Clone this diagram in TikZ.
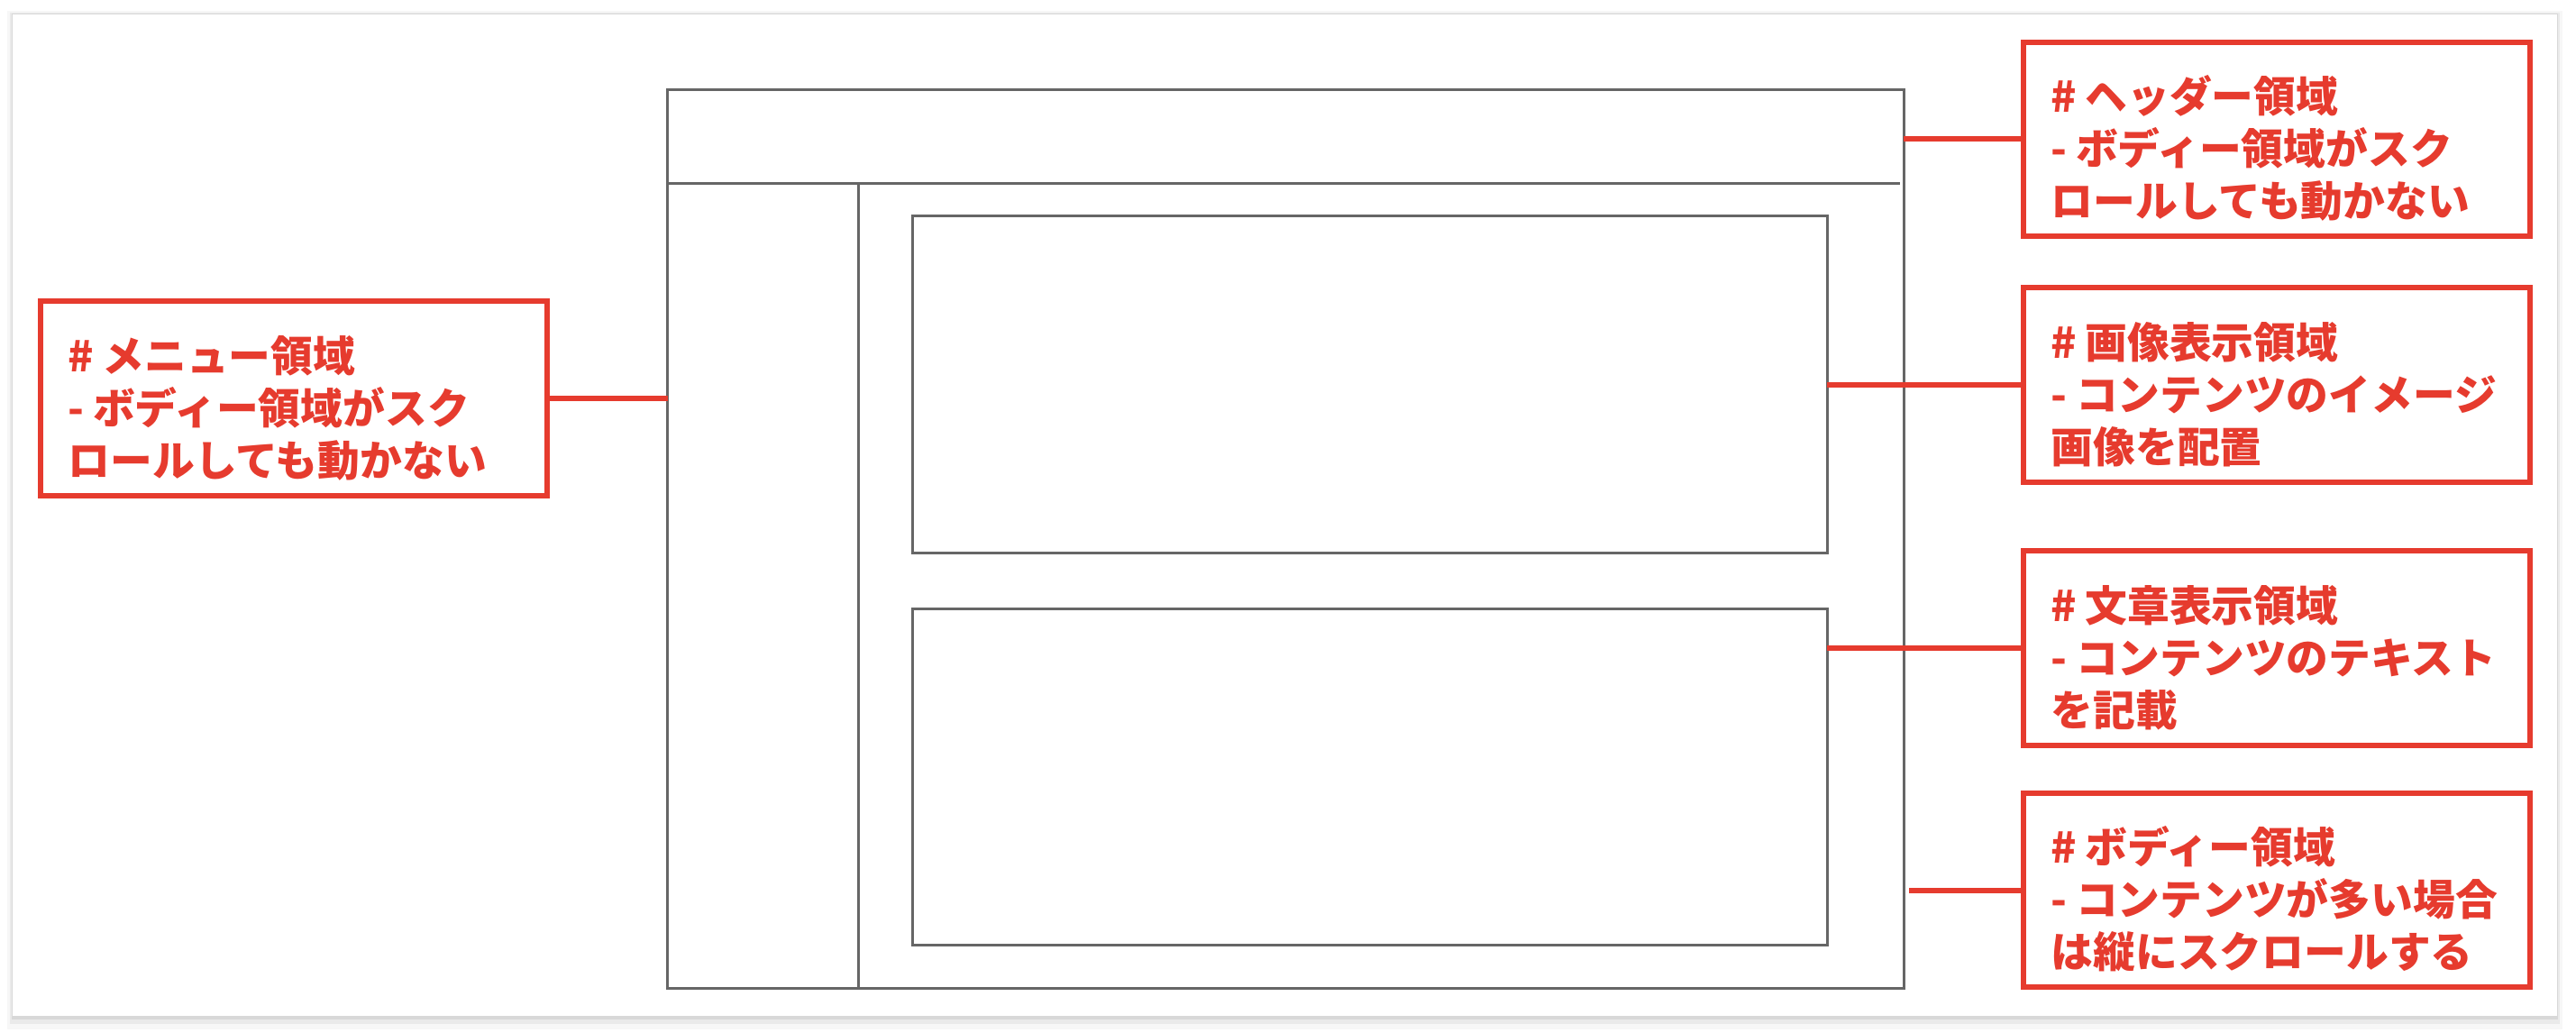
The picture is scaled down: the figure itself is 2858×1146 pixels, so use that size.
\documentclass[tikz,border=0pt]{standalone}
\usepackage{fontspec}
\newfontfamily\jpfont{Noto Sans CJK JP}
\usetikzlibrary{positioning}
\definecolor{notered}{HTML}{E63B2E}
\definecolor{wire}{HTML}{666666}
\newcommand{\dashitem}{\mbox{-}\nobreak\hspace{0.2em}}
\tikzset{frame/.style = {draw=wire, line width=0.03cm, rectangle, inner sep=0pt, outer sep=0pt}}
\tikzset{note/.style = {draw=notered, line width=0.06cm, rectangle, inner sep=0pt, outer sep=0pt, minimum width=5.62cm, minimum height=2.15cm, text width=5cm, align=left, text=notered, font=\jpfont\bfseries\fontsize{13.3pt}{16.5pt}\selectfont, execute at begin node={\rule{0pt}{0.61cm}}}}
\tikzset{link/.style = {draw=notered, line width=0.06cm}}

\begin{document}
\begin{tikzpicture}[x=0.01cm, y=-0.01cm]
\useasboundingbox (0,0) rectangle (2858,1146);
% card with a soft shadow
\fill[black, opacity=0.03] (8,12) rectangle (2843,1142);
\fill[black, opacity=0.05] (11,14) rectangle (2840,1136);
\fill[black, opacity=0.08] (13,15) rectangle (2838,1131);
\fill[white] (14,16) rectangle (2837,1127);

% wireframe
\node[frame, minimum width=13.71cm, minimum height=9.96cm] (page) at (1426.5,598) {};
\node[frame, minimum width=10.14cm, minimum height=3.73cm] (img) at (1520,426.5) {};
\node[frame, minimum width=10.14cm, minimum height=3.72cm] (txt) at (1520,862) {};
\coordinate (side) at (952,204);
\draw[wire, line width=0.03cm] (page.west |- side) -- (2108,204);
\draw[wire, line width=0.03cm] (side) -- (side |- page.south);

% notes
\node[note] (menu) at (326,442) {\#\hspace{0.2em}メニュー領域\\\dashitem ボディー領域がスク\\ロールしても動かない};
\node[note] (head) at (2526,154.5) {\#\hspace{0.2em}ヘッダー領域\\\dashitem ボディー領域がスク\\ロールしても動かない};
\node[note] (imgnote) at (2526,427) {\#\hspace{0.2em}画像表示領域\\\dashitem コンテンツのイメージ\\画像を配置};
\node[note] (txtnote) at (2526,719) {\#\hspace{0.2em}文章表示領域\\\dashitem コンテンツのテキスト\\を記載};
\node[note] (body) at (2526,987.5) {\#\hspace{0.2em}ボディー領域\\\dashitem コンテンツが多い場合\\は縦にスクロールする};
\coordinate (bodyend) at (2118,987.5);

\path[link] (menu.east) -- (menu.east -| page.west);
\path[link] (head.west) -- (head.west -| page.east);
\path[link] (imgnote.west) -- (imgnote.west -| img.east);
\path[link] (txtnote.west) -- (txtnote.west -| txt.east);
\path[link] (body.west) -- (bodyend);
\end{tikzpicture}
\end{document}
